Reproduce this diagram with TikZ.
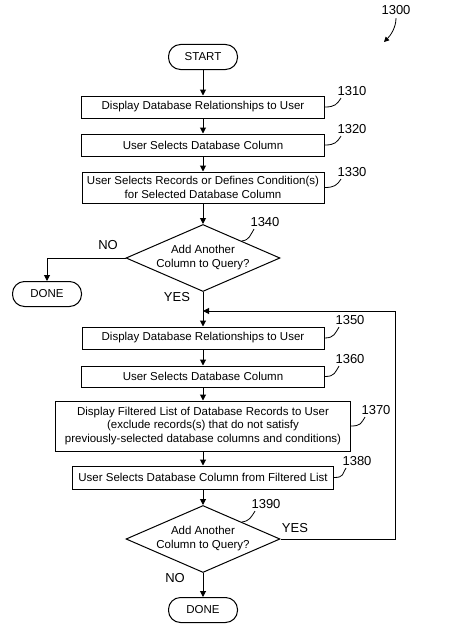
\documentclass[tikz,border=0pt]{standalone}
\usepackage{fontspec}
\setmainfont{Liberation Sans}
\usetikzlibrary{arrows.meta,shapes.geometric}
\tikzset{
  flow/.style={line width=1pt, -{Triangle[length=6pt,width=6pt]}},
  procbox/.style={draw, line width=1pt, minimum height=22pt, inner sep=1pt,
    align=center, font=\fontsize{11.5}{13.5}\selectfont},
  decision/.style={draw, line width=1pt, shape=diamond, aspect=2.3,
    inner sep=-2pt, minimum width=154pt, minimum height=67pt,
    align=center, font=\fontsize{11.5}{14}\selectfont},
  terminal/.style={draw, line width=1pt, rounded corners=12pt,
    minimum width=69pt, minimum height=25pt, font=\fontsize{11.5}{12}\selectfont},
  refnum/.style={font=\fontsize{13}{14}\selectfont},
  answer/.style={font=\fontsize{13}{14}\selectfont},
  leader/.style={line width=0.8pt}
}

\begin{document}
\begin{tikzpicture}[x=1pt,y=-1pt]
                \useasboundingbox (0,0) rectangle (474,634);

                %Figure number
                \node[refnum] (l1300) at (396,10) {1300};
                \coordinate (fig) at (384,42);
                \draw[line width=0.8pt, -{Triangle[length=5pt,width=5pt]}]
                    (l1300.south) .. controls +(0,10) and +(6,-6) .. (fig);

                %Top: first column of the query
                \node[terminal] (start) at (203,57) {START};
                \node[procbox, minimum width=243pt] (b1310) at (203,107)
                    {Display Database Relationships to User};
                \node[procbox, minimum width=243pt] (b1320) at (203,145)
                    {User Selects Database Column};
                \node[procbox, minimum width=242pt, minimum height=31pt] (b1330) at (203,187.5)
                    {User Selects Records or Defines Condition(s)\\for Selected Database Column};
                \node[decision] (d1340) at (203,258) {Add Another\\Column to Query?};
                \node[terminal] (done1) at (47,294) {DONE};

                %Bottom: further columns, filtered
                \coordinate (join) at (203,311);
                \node[procbox, minimum width=242pt] (b1350) at (203,338)
                    {Display Database Relationships to User};
                \node[procbox, minimum width=243pt, minimum height=21pt] (b1360) at (203,376.5)
                    {User Selects Database Column};
                \node[procbox, minimum width=295pt, minimum height=50pt] (b1370) at (203,426)
                    {Display Filtered List of Database Records to User\\(exclude records(s) that do not satisfy\\previously-selected database columns and conditions)};
                \node[procbox, minimum width=261pt, minimum height=23pt] (b1380) at (203,477.5)
                    {User Selects Database Column from Filtered List};
                \node[decision] (d1390) at (203,539) {Add Another\\Column to Query?};
                \node[terminal] (done2) at (203,610) {DONE};

                %flow arrows
                \draw[flow] (start) -- (b1310);
                \draw[flow] (b1310) -- (b1320);
                \draw[flow] (b1320) -- (b1330);
                \draw[flow] (b1330) -- (d1340);
                \draw[flow] (d1340.west) -| (done1.north);
                \draw[flow] (d1340) -- (b1350);
                \draw[flow] (b1350) -- (b1360);
                \draw[flow] (b1360) -- (b1370);
                \draw[flow] (b1370) -- (b1380);
                \draw[flow] (b1380) -- (d1390);
                \draw[flow] (d1390) -- (done2);
                \draw[flow] (d1390.east) -- ++(115,0) |- (join);

                %answers
                \node[answer] (no1) at (108,245) {NO};
                \node[answer] (yes1) at (177,297) {YES};
                \node[answer] (yes2) at (295,528) {YES};
                \node[answer] (no2) at (175,578) {NO};

                %reference numbers with leaders
                \node[refnum] (l1310) at (352,91) {1310};
                \node[refnum] (l1320) at (352,129) {1320};
                \node[refnum] (l1330) at (352,172) {1330};
                \node[refnum] (l1340) at (265,222) {1340};
                \node[refnum] (l1350) at (350,320) {1350};
                \node[refnum] (l1360) at (350,359) {1360};
                \node[refnum] (l1370) at (376,410) {1370};
                \node[refnum] (l1380) at (357,461) {1380};
                \node[refnum] (l1390) at (266,504) {1390};
                \foreach \n in {1310,1320,1330,1350,1360,1370,1380}
                    \draw[leader] (b\n.east) .. controls +(10,0) and +(-4,6) .. ([xshift=7pt,yshift=1pt]l\n.south west);
                \foreach \n in {1340,1390}
                    \draw[leader] (d\n.north east) .. controls +(8,-1) and +(-4,6) .. ([xshift=7pt,yshift=1pt]l\n.south west);
\end{tikzpicture}
\end{document}
